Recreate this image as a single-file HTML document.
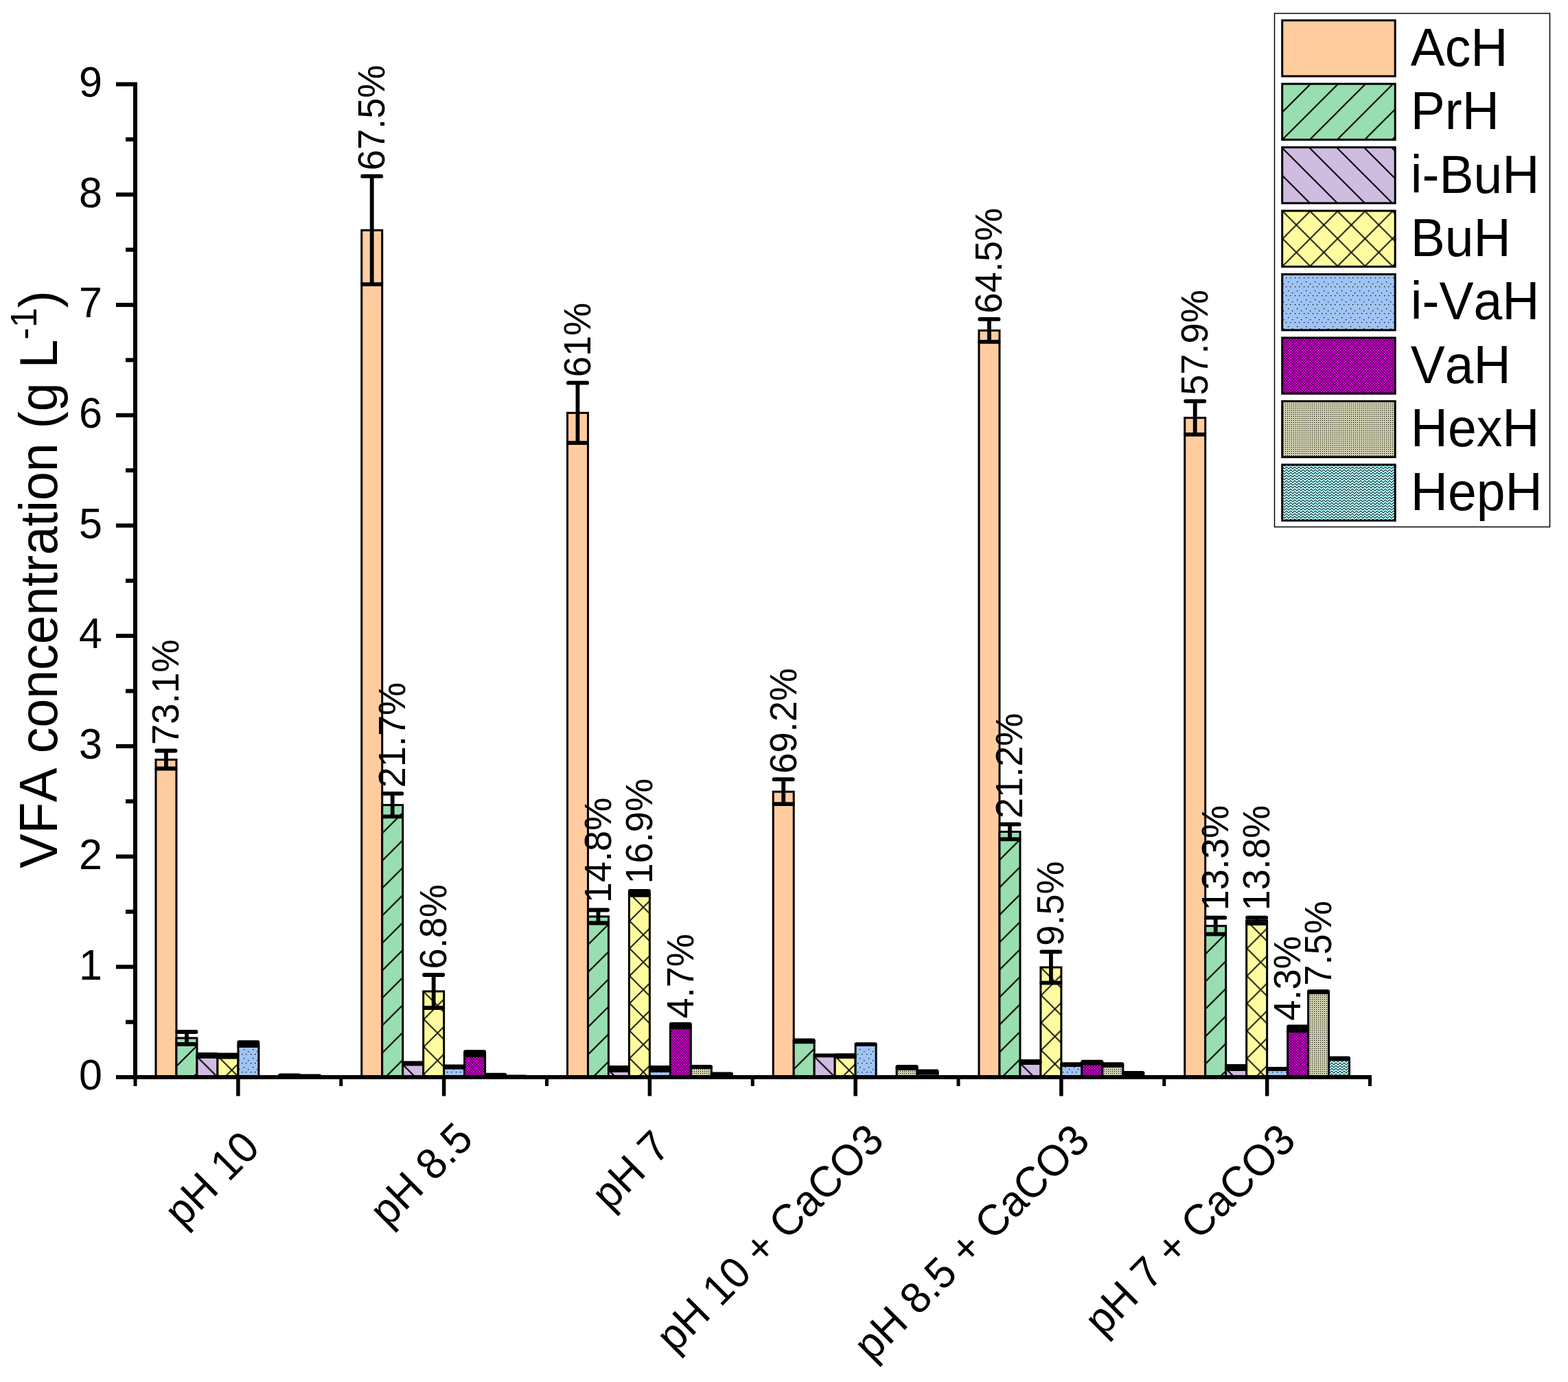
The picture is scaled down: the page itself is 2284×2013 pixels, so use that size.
<!DOCTYPE html><html><head><meta charset="utf-8"><title>VFA concentration</title>
<style>html,body{margin:0;padding:0;background:#fff;}svg{display:block;}text{font-family:"Liberation Sans", Arial, sans-serif;fill:#000;font-kerning:none;}</style></head><body>
<svg xmlns="http://www.w3.org/2000/svg" width="2284" height="2013" viewBox="0 0 2284 2013">
<defs><pattern id="pAc" patternUnits="userSpaceOnUse" width="8" height="8"><rect width="8" height="8" fill="#FFCCA0"/></pattern>
<pattern id="pPr" patternUnits="userSpaceOnUse" width="40" height="40" x="1.2" y="0"><rect width="40" height="40" fill="#99DEB0"/><path d="M-10,10 L10,-10 M-10,50 L50,-10 M30,50 L50,30" stroke="#000" stroke-width="2" fill="none"/></pattern>
<pattern id="piBu" patternUnits="userSpaceOnUse" width="40" height="40" x="-1.6" y="0"><rect width="40" height="40" fill="#D0BCE0"/><path d="M-10,30 L10,50 M-10,-10 L50,50 M30,-10 L50,10" stroke="#000" stroke-width="2" fill="none"/></pattern>
<pattern id="pBu" patternUnits="userSpaceOnUse" width="40" height="40" x="0.7" y="0.7"><rect width="40" height="40" fill="#FFFCA0"/><path d="M-10,30 L10,50 M-10,-10 L50,50 M30,-10 L50,10 M-10,10 L10,-10 M-10,50 L50,-10 M30,50 L50,30" stroke="#000" stroke-width="1.8" fill="none"/></pattern>
<pattern id="lPr" patternUnits="userSpaceOnUse" width="40" height="40" x="31.3" y="0"><rect width="40" height="40" fill="#99DEB0"/><path d="M-10,10 L10,-10 M-10,50 L50,-10 M30,50 L50,30" stroke="#000" stroke-width="2" fill="none"/></pattern>
<pattern id="liBu" patternUnits="userSpaceOnUse" width="40" height="40" x="12.2" y="0"><rect width="40" height="40" fill="#D0BCE0"/><path d="M-10,30 L10,50 M-10,-10 L50,50 M30,-10 L50,10" stroke="#000" stroke-width="2" fill="none"/></pattern>
<pattern id="lBu" patternUnits="userSpaceOnUse" width="40" height="40" x="8.35" y="7.65"><rect width="40" height="40" fill="#FFFCA0"/><path d="M-10,30 L10,50 M-10,-10 L50,50 M30,-10 L50,10 M-10,10 L10,-10 M-10,50 L50,-10 M30,50 L50,30" stroke="#000" stroke-width="1.8" fill="none"/></pattern>
<pattern id="piVa" patternUnits="userSpaceOnUse" width="13" height="13"><rect width="13" height="13" fill="#A0C4F4"/><g fill="#000"><rect x="1" y="1" width="1.3" height="1.3"/><rect x="7" y="1" width="1.3" height="1.3"/><rect x="4" y="7" width="1.3" height="1.3"/><rect x="10" y="10" width="1.3" height="1.3"/></g></pattern>
<pattern id="pVa" patternUnits="userSpaceOnUse" width="8" height="8"><rect width="8" height="8" fill="#FF00FF"/><g fill="#000"><rect x="0" y="0" width="1" height="1"/><rect x="0" y="4" width="1" height="1"/><rect x="1" y="1" width="1" height="1"/><rect x="1" y="3" width="1" height="1"/><rect x="1" y="5" width="1" height="1"/><rect x="1" y="7" width="1" height="1"/><rect x="2" y="2" width="1" height="1"/><rect x="2" y="6" width="1" height="1"/><rect x="3" y="1" width="1" height="1"/><rect x="3" y="3" width="1" height="1"/><rect x="3" y="5" width="1" height="1"/><rect x="3" y="7" width="1" height="1"/><rect x="4" y="0" width="1" height="1"/><rect x="4" y="4" width="1" height="1"/><rect x="5" y="1" width="1" height="1"/><rect x="5" y="3" width="1" height="1"/><rect x="5" y="5" width="1" height="1"/><rect x="5" y="7" width="1" height="1"/><rect x="6" y="2" width="1" height="1"/><rect x="6" y="6" width="1" height="1"/><rect x="7" y="1" width="1" height="1"/><rect x="7" y="3" width="1" height="1"/><rect x="7" y="5" width="1" height="1"/><rect x="7" y="7" width="1" height="1"/></g></pattern>
<pattern id="pHex" patternUnits="userSpaceOnUse" width="6" height="6"><rect width="6" height="6" fill="#CCCCAC"/><g fill="#000"><rect x="0" y="0" width="1" height="1"/><rect x="3" y="0" width="1" height="1"/><rect x="0" y="3" width="1" height="1"/><rect x="3" y="3" width="1" height="1"/></g></pattern>
<pattern id="pHep" patternUnits="userSpaceOnUse" width="6" height="4"><rect width="6" height="4" fill="#AAF0F4"/><g fill="#000"><rect x="0" y="1" width="1" height="1"/><rect x="1" y="0" width="1" height="1"/><rect x="2" y="0" width="1" height="1"/><rect x="3" y="1" width="1" height="1"/><rect x="4" y="2" width="1" height="1"/><rect x="5" y="2" width="1" height="1"/></g></pattern></defs>
<rect width="2284" height="2013" fill="#fff"/>
<g stroke="#000" stroke-width="3" stroke-linejoin="miter">
<rect x="226.97" y="1106.5" width="29.98" height="462.5" fill="url(#pAc)"/>
<rect transform="translate(256.95,1512)" width="29.98" height="57" fill="url(#pPr)"/>
<rect transform="translate(286.93,1537.4)" width="29.98" height="31.6" fill="url(#piBu)"/>
<rect transform="translate(316.9,1538)" width="29.98" height="31" fill="url(#pBu)"/>
<rect x="346.88" y="1520.6" width="29.98" height="48.4" fill="url(#piVa)"/>
<rect x="406.83" y="1566.3" width="29.98" height="2.7" fill="url(#pHex)"/>
<rect x="436.8" y="1567.5" width="29.98" height="1.5" fill="url(#pHep)"/>
<rect x="526.73" y="335.4" width="29.98" height="1233.6" fill="url(#pAc)"/>
<rect transform="translate(556.7,1172.6)" width="29.98" height="396.4" fill="url(#pPr)"/>
<rect transform="translate(586.67,1549)" width="29.98" height="20" fill="url(#piBu)"/>
<rect transform="translate(616.65,1444)" width="29.98" height="125" fill="url(#pBu)"/>
<rect x="646.62" y="1554" width="29.98" height="15" fill="url(#piVa)"/>
<rect x="676.6" y="1534.6" width="29.98" height="34.4" fill="url(#pVa)"/>
<rect x="706.58" y="1565.7" width="29.98" height="3.3" fill="url(#pHex)"/>
<rect x="736.55" y="1568.5" width="29.98" height="0.5" fill="url(#pHep)"/>
<rect x="826.48" y="601.4" width="29.98" height="967.6" fill="url(#pAc)"/>
<rect transform="translate(856.45,1335)" width="29.98" height="234" fill="url(#pPr)"/>
<rect transform="translate(886.42,1557)" width="29.98" height="12" fill="url(#piBu)"/>
<rect transform="translate(916.4,1300.8)" width="29.98" height="268.2" fill="url(#pBu)"/>
<rect x="946.38" y="1557" width="29.98" height="12" fill="url(#piVa)"/>
<rect x="976.35" y="1494" width="29.98" height="75" fill="url(#pVa)"/>
<rect x="1006.33" y="1554" width="29.98" height="15" fill="url(#pHex)"/>
<rect x="1036.3" y="1564.4" width="29.98" height="4.6" fill="url(#pHep)"/>
<rect x="1126.22" y="1153.2" width="29.98" height="415.8" fill="url(#pAc)"/>
<rect transform="translate(1156.2,1516.3)" width="29.98" height="52.7" fill="url(#pPr)"/>
<rect transform="translate(1186.17,1537.4)" width="29.98" height="31.6" fill="url(#piBu)"/>
<rect transform="translate(1216.15,1538.2)" width="29.98" height="30.8" fill="url(#pBu)"/>
<rect x="1246.12" y="1521.1" width="29.98" height="47.9" fill="url(#piVa)"/>
<rect x="1306.08" y="1555" width="29.98" height="14" fill="url(#pHex)"/>
<rect x="1336.05" y="1561.5" width="29.98" height="7.5" fill="url(#pHep)"/>
<rect x="1425.97" y="481.4" width="29.98" height="1087.6" fill="url(#pAc)"/>
<rect transform="translate(1455.95,1211.5)" width="29.98" height="357.5" fill="url(#pPr)"/>
<rect transform="translate(1485.92,1547)" width="29.98" height="22" fill="url(#piBu)"/>
<rect transform="translate(1515.9,1409)" width="29.98" height="160" fill="url(#pBu)"/>
<rect x="1545.88" y="1550.6" width="29.98" height="18.4" fill="url(#piVa)"/>
<rect x="1575.85" y="1547.6" width="29.98" height="21.4" fill="url(#pVa)"/>
<rect x="1605.83" y="1551.2" width="29.98" height="17.8" fill="url(#pHex)"/>
<rect x="1635.8" y="1563" width="29.98" height="6" fill="url(#pHep)"/>
<rect x="1725.72" y="608.6" width="29.98" height="960.4" fill="url(#pAc)"/>
<rect transform="translate(1755.7,1348.7)" width="29.98" height="220.3" fill="url(#pPr)"/>
<rect transform="translate(1785.67,1555)" width="29.98" height="14" fill="url(#piBu)"/>
<rect transform="translate(1815.65,1340.9)" width="29.98" height="228.1" fill="url(#pBu)"/>
<rect x="1845.62" y="1557" width="29.98" height="12" fill="url(#piVa)"/>
<rect x="1875.6" y="1498.3" width="29.98" height="70.7" fill="url(#pVa)"/>
<rect x="1905.58" y="1444.7" width="29.98" height="124.3" fill="url(#pHex)"/>
<rect x="1935.55" y="1541.8" width="29.98" height="27.2" fill="url(#pHep)"/>
</g>
<g stroke="#000" stroke-width="5.8" fill="none">
<path d="M228.38,1093.5H255.55 M228.38,1119.5H255.55" stroke-linecap="round"/>
<path d="M241.96,1093.5V1119.5"/>
<path d="M258.35,1503H285.53 M258.35,1521H285.53" stroke-linecap="round"/>
<path d="M271.94,1503V1521"/>
<path d="M288.32,1535.9H315.5 M288.32,1538.9H315.5" stroke-linecap="round"/>
<path d="M301.91,1535.9V1538.9"/>
<path d="M318.3,1536.5H345.48 M318.3,1539.5H345.48" stroke-linecap="round"/>
<path d="M331.89,1536.5V1539.5"/>
<path d="M348.27,1518.1H375.45 M348.27,1523.1H375.45" stroke-linecap="round"/>
<path d="M361.86,1518.1V1523.1"/>
<path d="M408.23,1566.3H435.4 M408.23,1566.3H435.4" stroke-linecap="round"/>
<path d="M421.81,1566.3V1566.3"/>
<path d="M438.2,1567.5H465.38 M438.2,1567.5H465.38" stroke-linecap="round"/>
<path d="M451.79,1567.5V1567.5"/>
<path d="M528.12,256.7H555.3 M528.12,414.1H555.3" stroke-linecap="round"/>
<path d="M541.71,256.7V414.1"/>
<path d="M558.1,1155.9H585.28 M558.1,1189.3H585.28" stroke-linecap="round"/>
<path d="M571.69,1155.9V1189.3"/>
<path d="M588.07,1548.5H615.25 M588.07,1549.5H615.25" stroke-linecap="round"/>
<path d="M601.66,1548.5V1549.5"/>
<path d="M618.05,1420H645.23 M618.05,1468H645.23" stroke-linecap="round"/>
<path d="M631.64,1420V1468"/>
<path d="M648.02,1553.5H675.2 M648.02,1554.5H675.2" stroke-linecap="round"/>
<path d="M661.61,1553.5V1554.5"/>
<path d="M678,1532.1H705.18 M678,1537.1H705.18" stroke-linecap="round"/>
<path d="M691.59,1532.1V1537.1"/>
<path d="M707.98,1565.7H735.15 M707.98,1565.7H735.15" stroke-linecap="round"/>
<path d="M721.56,1565.7V1565.7"/>
<path d="M737.95,1568.5H765.12 M737.95,1568.5H765.12" stroke-linecap="round"/>
<path d="M751.54,1568.5V1568.5"/>
<path d="M827.88,557.7H855.05 M827.88,645.1H855.05" stroke-linecap="round"/>
<path d="M841.46,557.7V645.1"/>
<path d="M857.85,1325.5H885.03 M857.85,1344.5H885.03" stroke-linecap="round"/>
<path d="M871.44,1325.5V1344.5"/>
<path d="M887.82,1555H915 M887.82,1559H915" stroke-linecap="round"/>
<path d="M901.41,1555V1559"/>
<path d="M917.8,1297.8H944.98 M917.8,1303.8H944.98" stroke-linecap="round"/>
<path d="M931.39,1297.8V1303.8"/>
<path d="M947.77,1555H974.95 M947.77,1559H974.95" stroke-linecap="round"/>
<path d="M961.36,1555V1559"/>
<path d="M977.75,1492H1004.93 M977.75,1496H1004.93" stroke-linecap="round"/>
<path d="M991.34,1492V1496"/>
<path d="M1007.73,1554H1034.9 M1007.73,1554H1034.9" stroke-linecap="round"/>
<path d="M1021.31,1554V1554"/>
<path d="M1037.7,1564.4H1064.87 M1037.7,1564.4H1064.87" stroke-linecap="round"/>
<path d="M1051.29,1564.4V1564.4"/>
<path d="M1127.62,1135.2H1154.8 M1127.62,1171.2H1154.8" stroke-linecap="round"/>
<path d="M1141.21,1135.2V1171.2"/>
<path d="M1157.6,1515.3H1184.77 M1157.6,1517.3H1184.77" stroke-linecap="round"/>
<path d="M1171.19,1515.3V1517.3"/>
<path d="M1187.58,1537.4H1214.75 M1187.58,1537.4H1214.75" stroke-linecap="round"/>
<path d="M1201.16,1537.4V1537.4"/>
<path d="M1217.55,1537.2H1244.72 M1217.55,1539.2H1244.72" stroke-linecap="round"/>
<path d="M1231.14,1537.2V1539.2"/>
<path d="M1247.53,1521.1H1274.7 M1247.53,1521.1H1274.7" stroke-linecap="round"/>
<path d="M1261.11,1521.1V1521.1"/>
<path d="M1307.48,1554H1334.65 M1307.48,1556H1334.65" stroke-linecap="round"/>
<path d="M1321.06,1554V1556"/>
<path d="M1337.45,1560.5H1364.62 M1337.45,1562.5H1364.62" stroke-linecap="round"/>
<path d="M1351.04,1560.5V1562.5"/>
<path d="M1427.38,464.9H1454.55 M1427.38,497.9H1454.55" stroke-linecap="round"/>
<path d="M1440.96,464.9V497.9"/>
<path d="M1457.35,1200.7H1484.52 M1457.35,1222.3H1484.52" stroke-linecap="round"/>
<path d="M1470.94,1200.7V1222.3"/>
<path d="M1487.33,1546H1514.5 M1487.33,1548H1514.5" stroke-linecap="round"/>
<path d="M1500.91,1546V1548"/>
<path d="M1517.3,1386.3H1544.47 M1517.3,1431.7H1544.47" stroke-linecap="round"/>
<path d="M1530.89,1386.3V1431.7"/>
<path d="M1547.28,1550.1H1574.45 M1547.28,1551.1H1574.45" stroke-linecap="round"/>
<path d="M1560.86,1550.1V1551.1"/>
<path d="M1577.25,1546.6H1604.42 M1577.25,1548.6H1604.42" stroke-linecap="round"/>
<path d="M1590.84,1546.6V1548.6"/>
<path d="M1607.23,1550.2H1634.4 M1607.23,1552.2H1634.4" stroke-linecap="round"/>
<path d="M1620.81,1550.2V1552.2"/>
<path d="M1637.2,1563H1664.37 M1637.2,1563H1664.37" stroke-linecap="round"/>
<path d="M1650.79,1563V1563"/>
<path d="M1727.12,584.3H1754.3 M1727.12,632.9H1754.3" stroke-linecap="round"/>
<path d="M1740.71,584.3V632.9"/>
<path d="M1757.1,1336.7H1784.27 M1757.1,1360.7H1784.27" stroke-linecap="round"/>
<path d="M1770.69,1336.7V1360.7"/>
<path d="M1787.08,1553H1814.25 M1787.08,1557H1814.25" stroke-linecap="round"/>
<path d="M1800.66,1553V1557"/>
<path d="M1817.05,1336.7H1844.22 M1817.05,1345.1H1844.22" stroke-linecap="round"/>
<path d="M1830.64,1336.7V1345.1"/>
<path d="M1847.03,1557H1874.2 M1847.03,1557H1874.2" stroke-linecap="round"/>
<path d="M1860.61,1557V1557"/>
<path d="M1877,1495.3H1904.17 M1877,1501.3H1904.17" stroke-linecap="round"/>
<path d="M1890.59,1495.3V1501.3"/>
<path d="M1906.98,1444.2H1934.15 M1906.98,1445.2H1934.15" stroke-linecap="round"/>
<path d="M1920.56,1444.2V1445.2"/>
<path d="M1936.95,1541.3H1964.12 M1936.95,1542.3H1964.12" stroke-linecap="round"/>
<path d="M1950.54,1541.3V1542.3"/>
</g>
<g fill="#000">
<rect x="194" y="120" width="6" height="1452"/>
<rect x="169" y="1566" width="1829" height="6"/>
<rect x="169" y="1566" width="31" height="6"/>
<rect x="183" y="1485.65" width="17" height="6"/>
<rect x="169" y="1405.3" width="31" height="6"/>
<rect x="183" y="1324.95" width="17" height="6"/>
<rect x="169" y="1244.6" width="31" height="6"/>
<rect x="183" y="1164.25" width="17" height="6"/>
<rect x="169" y="1083.9" width="31" height="6"/>
<rect x="183" y="1003.55" width="17" height="6"/>
<rect x="169" y="923.2" width="31" height="6"/>
<rect x="183" y="842.85" width="17" height="6"/>
<rect x="169" y="762.5" width="31" height="6"/>
<rect x="183" y="682.15" width="17" height="6"/>
<rect x="169" y="601.8" width="31" height="6"/>
<rect x="183" y="521.45" width="17" height="6"/>
<rect x="169" y="441.1" width="31" height="6"/>
<rect x="183" y="360.75" width="17" height="6"/>
<rect x="169" y="280.4" width="31" height="6"/>
<rect x="183" y="200.05" width="17" height="6"/>
<rect x="169" y="119.7" width="31" height="6"/>
<rect x="344.12" y="1569" width="5.5" height="27.5"/>
<rect x="643.88" y="1569" width="5.5" height="27.5"/>
<rect x="943.62" y="1569" width="5.5" height="27.5"/>
<rect x="1243.38" y="1569" width="5.5" height="27.5"/>
<rect x="1543.12" y="1569" width="5.5" height="27.5"/>
<rect x="1842.88" y="1569" width="5.5" height="27.5"/>
<rect x="194.5" y="1569" width="5" height="13"/>
<rect x="494.25" y="1569" width="5" height="13"/>
<rect x="794" y="1569" width="5" height="13"/>
<rect x="1093.75" y="1569" width="5" height="13"/>
<rect x="1393.5" y="1569" width="5" height="13"/>
<rect x="1693.25" y="1569" width="5" height="13"/>
<rect x="1993" y="1569" width="5" height="13"/>
</g>
<text transform="translate(149,1587.2) scale(1,1.04)" font-size="61" text-anchor="end">0</text>
<text transform="translate(149,1426.5) scale(1,1.04)" font-size="61" text-anchor="end">1</text>
<text transform="translate(149,1265.8) scale(1,1.04)" font-size="61" text-anchor="end">2</text>
<text transform="translate(149,1105.1) scale(1,1.04)" font-size="61" text-anchor="end">3</text>
<text transform="translate(149,944.4) scale(1,1.04)" font-size="61" text-anchor="end">4</text>
<text transform="translate(149,783.7) scale(1,1.04)" font-size="61" text-anchor="end">5</text>
<text transform="translate(149,623) scale(1,1.04)" font-size="61" text-anchor="end">6</text>
<text transform="translate(149,462.3) scale(1,1.04)" font-size="61" text-anchor="end">7</text>
<text transform="translate(149,301.6) scale(1,1.04)" font-size="61" text-anchor="end">8</text>
<text transform="translate(149,140.9) scale(1,1.04)" font-size="61" text-anchor="end">9</text>
<text transform="translate(83,1264.7) rotate(-90) scale(1,1.04)" font-size="75.3">VFA concentration (g L<tspan font-size="52" dy="-28.75">-1</tspan><tspan dy="28.75">)</tspan></text>
<text transform="translate(260.36,1085) rotate(-90) scale(1,1.04)" font-size="54.2">73.1%</text>
<text transform="translate(560.11,248.2) rotate(-90) scale(1,1.04)" font-size="54.2">67.5%</text>
<text transform="translate(590.09,1147.4) rotate(-90) scale(1,1.04)" font-size="54.2">21.7%</text>
<text transform="translate(650.04,1411.5) rotate(-90) scale(1,1.04)" font-size="54.2">6.8%</text>
<text transform="translate(859.86,549.2) rotate(-90) scale(1,1.04)" font-size="54.2">61%</text>
<text transform="translate(889.84,1315.22) rotate(-90) scale(1,1.04)" font-size="54.2">14.8%</text>
<text transform="translate(949.79,1287.52) rotate(-90) scale(1,1.04)" font-size="54.2">16.9%</text>
<text transform="translate(1009.74,1483.5) rotate(-90) scale(1,1.04)" font-size="54.2">4.7%</text>
<text transform="translate(1159.61,1126.7) rotate(-90) scale(1,1.04)" font-size="54.2">69.2%</text>
<text transform="translate(1459.36,456.4) rotate(-90) scale(1,1.04)" font-size="54.2">64.5%</text>
<text transform="translate(1489.34,1192.2) rotate(-90) scale(1,1.04)" font-size="54.2">21.2%</text>
<text transform="translate(1549.29,1377.8) rotate(-90) scale(1,1.04)" font-size="54.2">9.5%</text>
<text transform="translate(1759.11,575.8) rotate(-90) scale(1,1.04)" font-size="54.2">57.9%</text>
<text transform="translate(1789.09,1326.42) rotate(-90) scale(1,1.04)" font-size="54.2">13.3%</text>
<text transform="translate(1849.04,1326.42) rotate(-90) scale(1,1.04)" font-size="54.2">13.8%</text>
<text transform="translate(1893.69,1486.8) rotate(-90) scale(1,1.04)" font-size="54.2">4.3%</text>
<text transform="translate(1938.96,1435.7) rotate(-90) scale(1,1.04)" font-size="54.2">7.5%</text>
<text transform="translate(381.07,1674.8) rotate(-45) scale(1,1.04)" font-size="61" text-anchor="end">pH 10</text>
<text transform="translate(692.02,1662.2) rotate(-45) scale(1,1.04)" font-size="61" text-anchor="end">pH 8.5</text>
<text transform="translate(979.27,1674) rotate(-45) scale(1,1.04)" font-size="61" text-anchor="end">pH 7</text>
<text transform="translate(1290.42,1664.2) rotate(-45) scale(1,1.04)" font-size="61" text-anchor="end">pH 10 + CaCO3</text>
<text transform="translate(1590.17,1664.7) rotate(-45) scale(1,1.04)" font-size="61" text-anchor="end">pH 8.5 + CaCO3</text>
<text transform="translate(1890.33,1664.2) rotate(-45) scale(1,1.04)" font-size="61" text-anchor="end">pH 7 + CaCO3</text>
<rect x="1856.5" y="19.5" width="401" height="748" fill="#fff" stroke="#000" stroke-width="1.5"/>
<rect x="1867.7" y="29.7" width="164.5" height="81.3" fill="url(#pAc)" stroke="#000" stroke-width="3"/>
<text transform="translate(2054.85,95.6) scale(1,1.04)" font-size="75">AcH</text>
<rect x="1867.7" y="122.16" width="164.5" height="81.3" fill="url(#lPr)" stroke="#000" stroke-width="3"/>
<text transform="translate(2054.85,188.06) scale(1,1.04)" font-size="75">PrH</text>
<rect x="1867.7" y="214.62" width="164.5" height="81.3" fill="url(#liBu)" stroke="#000" stroke-width="3"/>
<text transform="translate(2054.85,280.52) scale(1,1.04)" font-size="75">i-BuH</text>
<rect x="1867.7" y="307.08" width="164.5" height="81.3" fill="url(#lBu)" stroke="#000" stroke-width="3"/>
<text transform="translate(2054.85,372.98) scale(1,1.04)" font-size="75">BuH</text>
<rect x="1867.7" y="399.54" width="164.5" height="81.3" fill="url(#piVa)" stroke="#000" stroke-width="3"/>
<text transform="translate(2054.85,465.44) scale(1,1.04)" font-size="75">i-VaH</text>
<rect x="1867.7" y="492" width="164.5" height="81.3" fill="url(#pVa)" stroke="#000" stroke-width="3"/>
<text transform="translate(2054.85,557.9) scale(1,1.04)" font-size="75">VaH</text>
<rect x="1867.7" y="584.46" width="164.5" height="81.3" fill="url(#pHex)" stroke="#000" stroke-width="3"/>
<text transform="translate(2054.85,650.36) scale(1,1.04)" font-size="75">HexH</text>
<rect x="1867.7" y="676.92" width="164.5" height="81.3" fill="url(#pHep)" stroke="#000" stroke-width="3"/>
<text transform="translate(2054.85,742.82) scale(1,1.04)" font-size="75">HepH</text>
</svg></body></html>
